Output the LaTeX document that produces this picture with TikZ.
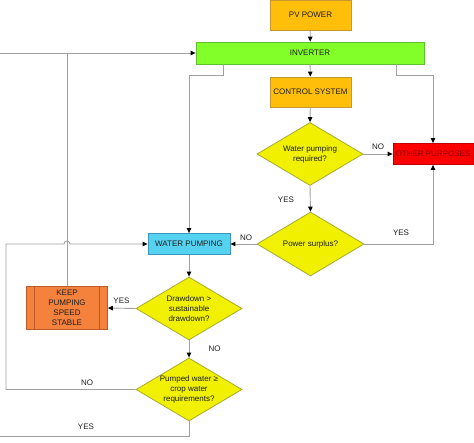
\documentclass[tikz,border=0pt]{standalone}
\usepackage{fontspec}
\setmainfont{Liberation Sans}
\usetikzlibrary{shapes.geometric,arrows.meta}
\definecolor{txt}{RGB}{30,30,30}
\definecolor{linec}{RGB}{160,160,160}
\definecolor{orf}{RGB}{255,190,10}
\definecolor{orb}{RGB}{200,150,50}
\definecolor{grf}{RGB}{130,255,40}
\definecolor{grb}{RGB}{100,190,50}
\definecolor{decf}{RGB}{240,240,0}
\definecolor{decb}{RGB}{170,170,50}
\definecolor{cyf}{RGB}{85,210,240}
\definecolor{cyb}{RGB}{60,150,190}
\definecolor{redf}{RGB}{255,0,0}
\definecolor{redb}{RGB}{190,0,0}
\definecolor{redt}{RGB}{130,0,0}
\definecolor{kpf}{RGB}{245,130,60}
\definecolor{kpb}{RGB}{185,90,40}
\begin{document}
\begin{tikzpicture}[x=1pt,y=-1pt,
  every node/.style={font=\fontsize{8}{10}\selectfont, text=txt},
  box/.style={rectangle, draw, line width=0.8pt, inner sep=0pt, align=center},
  dec/.style={diamond, draw=decb, fill=decf, line width=0.8pt, inner sep=0pt, align=center, aspect=1.68, minimum width=106pt, minimum height=63pt},
  lab/.style={inner sep=0pt},
  con/.style={draw=linec, line width=0.9pt},
  arr/.style={con, -{Triangle[length=5pt,width=4.5pt,color=black]}},
]
\useasboundingbox (0,0) rectangle (474,443);
% nodes
\node[box, draw=orb, fill=orf, minimum width=81pt, minimum height=30pt] (pv) at (310.5,15) {PV POWER};
\node[box, draw=grb, fill=grf, minimum width=228pt, minimum height=22pt] (inv) at (310,53) {INVERTER};
\node[box, draw=orb, fill=orf, minimum width=81pt, minimum height=30pt] (ctrl) at (310.5,92) {CONTROL SYSTEM};
\node[dec] (d1) at (310,154) {Water pumping\\required?};
\node[box, draw=redb, fill=redf, text=redt, minimum width=80pt, minimum height=21pt] (other) at (433,154) {OTHER PURPOSES};
\node[dec, minimum width=107pt, minimum height=64pt] (d2) at (310.5,244) {Power surplus?};
\node[box, draw=cyb, fill=cyf, minimum width=82pt, minimum height=21pt] (wp) at (189,244) {WATER PUMPING};
\node[dec] (d3) at (189,308.5) {Drawdown >\\sustainable\\drawdown?};
\node[box, draw=kpb, fill=kpf, minimum width=81pt, minimum height=43pt] (keep) at (67,308) {KEEP\\PUMPING\\SPEED\\STABLE};
\draw[kpb, line width=0.8pt] ([xshift=8.5pt]keep.north west) -- ([xshift=8.5pt]keep.south west);
\draw[kpb, line width=0.8pt] ([xshift=-8.5pt]keep.north east) -- ([xshift=-8.5pt]keep.south east);
\node[dec] (d4) at (189,389.5) {Pumped water ≥\\crop water\\requirements?};
\coordinate (inL) at (0,53);
\coordinate (yesend) at (0,436);
% connectors
\draw[arr] (pv) -- (inv);
\draw[arr] (inL) -- (inv.west);
\draw[con] (keep.north) -- (keep.north |- inv.west);
\draw[arr] ([xshift=-87pt]inv.south) -- ++(0,11) -| (wp.north);
\draw[arr] ([xshift=86pt]inv.south) -- ++(0,11) -| (other.north);
\draw[arr] (inv) -- (ctrl);
\draw[arr] (ctrl) -- (d1.north);
\draw[arr] (d1.east) -- (other.west);
\draw[arr] (d1.south) -- (d2.north);
\draw[arr] (d2.east) -| (other.south);
\draw[arr] (d2.west) -- (wp.east);
\draw[arr] (d4.west) -- (6,389.5) -- (6,244) -- (64,244) .. controls (64,240) and (70,240) .. (70,244) -- (wp.west);
\draw[arr] (wp.south) -- (d3.north);
\draw[arr] (d3.west) -- (keep.east);
\draw[arr] (d3.south) -- (d4.north);
\draw[con] (d4.south) |- (yesend);
% labels
\node[lab] (l1) at (378,147) {NO};
\node[lab] (l2) at (286,200) {YES};
\node[lab] (l3) at (401,233) {YES};
\node[lab] (l4) at (246,238) {NO};
\node[lab] (l5) at (121.5,301) {YES};
\node[lab] (l6) at (214.5,349) {NO};
\node[lab] (l7) at (87,383) {NO};
\node[lab] (l8) at (86,427) {YES};
\end{tikzpicture}
\end{document}
